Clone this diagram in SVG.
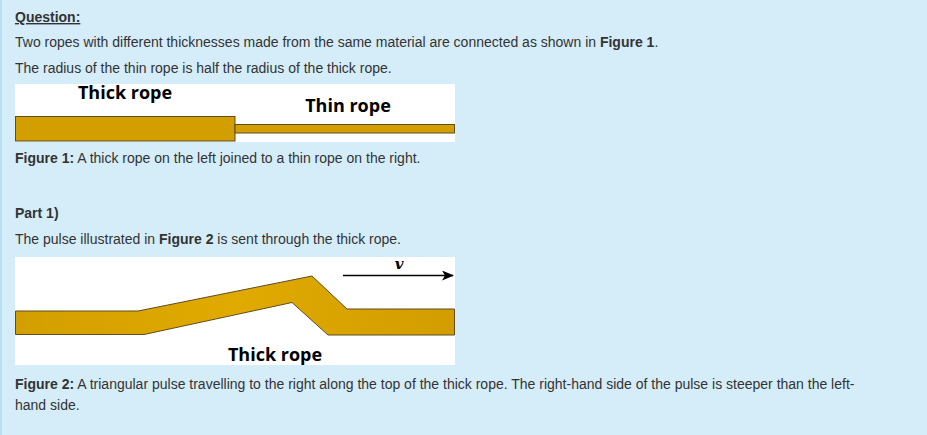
<svg xmlns="http://www.w3.org/2000/svg" width="927" height="435" viewBox="0 0 927 435">
<defs>
<style>
.t{font-family:"Liberation Sans",Arial,sans-serif;font-size:14px;fill:#333}
.b{font-weight:bold}
.lbl{font-family:"Open Sans","Liberation Sans",sans-serif;font-weight:bold;font-size:18px;fill:#000}
.rope{fill:#d29e00;stroke:#5e4d1e;stroke-width:1}
</style>
<marker id="ah" markerWidth="12" markerHeight="10" refX="11" refY="5" orient="auto" markerUnits="userSpaceOnUse">
<path d="M0,0 L12,5 L0,10 L3,5 Z" fill="#000"/>
</marker>
<linearGradient id="g2" x1="0" x2="1" y1="0" y2="0">
<stop offset="0" stop-color="#d39f00"/>
<stop offset="0.5" stop-color="#e0aa00"/>
<stop offset="1" stop-color="#d29d00"/>
</linearGradient>
</defs>
<rect x="0" y="0" width="927" height="435" fill="#d5edf9"/>
<rect x="0" y="0" width="2" height="435" fill="#b5e0f2"/>

<text class="t b" x="15" y="22" text-decoration="underline">Question:</text>
<text class="t" x="15" y="47">Two ropes with different thicknesses made from the same material are connected as shown in <tspan class="b">Figure 1</tspan>.</text>
<text class="t" x="15" y="73">The radius of the thin rope is half the radius of the thick rope.</text>

<g id="figure1">
<rect x="15" y="84" width="440" height="58" fill="#fff"/>
<g id="thick-rope"><rect class="rope" x="15.5" y="116.5" width="219.5" height="24.5"/></g>
<g id="thin-rope"><rect class="rope" x="235" y="124.5" width="219.5" height="8.5"/></g>
<text class="lbl" x="125" y="99" text-anchor="middle">Thick rope</text>
<text class="lbl" x="348" y="112" text-anchor="middle">Thin rope</text>
</g>
<text class="t" x="15" y="163"><tspan class="b">Figure 1:</tspan> A thick rope on the left joined to a thin rope on the right.</text>

<text class="t b" x="15" y="218">Part 1)</text>
<text class="t" x="15" y="244">The pulse illustrated in <tspan class="b">Figure 2</tspan> is sent through the thick rope.</text>

<g id="figure2">
<rect x="15" y="257" width="440" height="108" fill="#fff"/>
<g id="pulse-rope"><path d="M15.5,311 L138,311 L312,276 L347,309 L454.5,309 L454.5,335 L328,335 L292,302.5 L144,334.5 L15.5,334.5 Z" fill="url(#g2)" stroke="#5e4d1e" stroke-width="1" stroke-linejoin="miter"/></g>
<g id="connectors"><line x1="343" y1="275.5" x2="453" y2="275.5" stroke="#000" stroke-width="1.5" marker-end="url(#ah)"/></g>
<text x="399" y="269" text-anchor="middle" font-family="'DejaVu Serif','Liberation Serif',serif" font-style="italic" font-weight="bold" font-size="15" fill="#000">v</text>
<text class="lbl" x="275" y="361" text-anchor="middle">Thick rope</text>
</g>
<text class="t" x="15" y="389"><tspan class="b">Figure 2:</tspan> A triangular pulse travelling to the right along the top of the thick rope. The right-hand side of the pulse is steeper than the left-</text>
<text class="t" x="15" y="410">hand side.</text>
</svg>
